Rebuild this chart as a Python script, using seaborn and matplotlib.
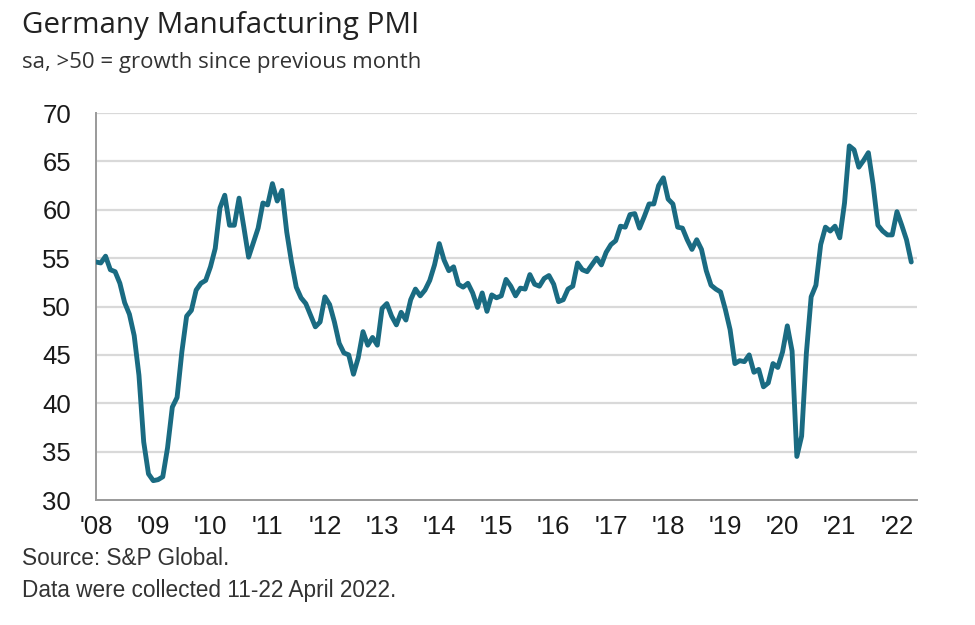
import numpy as np
import pandas as pd
import matplotlib
matplotlib.use("Agg")
import matplotlib.pyplot as plt
import seaborn as sns

# Germany Manufacturing PMI, monthly, sa
pmi_2008 = [54.6, 54.5, 55.2, 53.8, 53.6, 52.4, 50.4, 49.2, 47.0, 42.9, 36.0, 32.7]
pmi_2009 = [32.0, 32.1, 32.4, 35.4, 39.6, 40.6, 45.3, 49.0, 49.6, 51.7, 52.4, 52.7]
pmi_2010 = [54.1, 56.0, 60.2, 61.5, 58.4, 58.4, 61.2, 58.2, 55.1, 56.6, 58.1, 60.7]
pmi_2011 = [60.5, 62.7, 60.9, 62.0, 57.7, 54.6, 52.0, 50.9, 50.3, 49.1, 47.9, 48.4]
pmi_2012 = [51.0, 50.2, 48.4, 46.2, 45.2, 45.0, 43.0, 44.7, 47.4, 46.0, 46.8, 46.0]
pmi_2013 = [49.8, 50.3, 49.0, 48.1, 49.4, 48.6, 50.7, 51.8, 51.1, 51.7, 52.7, 54.3]
pmi_2014 = [56.5, 54.8, 53.7, 54.1, 52.3, 52.0, 52.4, 51.4, 49.9, 51.4, 49.5, 51.2]
pmi_2015 = [50.9, 51.1, 52.8, 52.1, 51.1, 51.9, 51.8, 53.3, 52.3, 52.1, 52.9, 53.2]
pmi_2016 = [52.3, 50.5, 50.7, 51.8, 52.1, 54.5, 53.8, 53.6, 54.3, 55.0, 54.3, 55.6]
pmi_2017 = [56.4, 56.8, 58.3, 58.2, 59.5, 59.6, 58.1, 59.3, 60.6, 60.6, 62.5, 63.3]
pmi_2018 = [61.1, 60.6, 58.2, 58.1, 56.9, 55.9, 56.9, 55.9, 53.7, 52.2, 51.8, 51.5]
pmi_2019 = [49.7, 47.6, 44.1, 44.4, 44.3, 45.0, 43.2, 43.5, 41.7, 42.1, 44.1, 43.7]
pmi_2020 = [45.3, 48.0, 45.4, 34.5, 36.6, 45.2, 51.0, 52.2, 56.4, 58.2, 57.8, 58.3]
pmi_2021 = [57.1, 60.7, 66.6, 66.2, 64.4, 65.1, 65.9, 62.6, 58.4, 57.8, 57.4, 57.4]
pmi_2022 = [59.8, 58.4, 56.9, 54.6]

years = list(range(2008, 2023))
year_labels = ["'08", "'09", "'10", "'11", "'12", "'13", "'14", "'15",
               "'16", "'17", "'18", "'19", "'20", "'21", "'22"]
y_ticks = [30, 35, 40, 45, 50, 55, 60, 65, 70]

series = [pmi_2008, pmi_2009, pmi_2010, pmi_2011, pmi_2012, pmi_2013, pmi_2014,
          pmi_2015, pmi_2016, pmi_2017, pmi_2018, pmi_2019, pmi_2020, pmi_2021,
          pmi_2022]

rows = []
for yr, vals in zip(years, series):
    for m, v in enumerate(vals):
        rows.append({"t": yr + m / 12, "pmi": v})
df = pd.DataFrame(rows)

sns.set_style("white")
plt.rcParams["font.family"] = ["Liberation Sans", "DejaVu Sans"]

fig = plt.figure(figsize=(9.75, 6.25), dpi=100)
ax = fig.add_axes([0.0985, 0.2, 0.842, 0.6192])

grid_c = "#d9d9d9"
spine_c = "#9a9a9a"
for t in y_ticks[1:]:
    ax.axhline(t, color=grid_c, lw=1.6, zorder=0)

sns.lineplot(data=df, x="t", y="pmi", ax=ax, color="#1a6b82", lw=3.5,
             solid_joinstyle="round", solid_capstyle="round", zorder=3)

ax.set_xlim(2008, 2022.35)
ax.set_ylim(30, 70)
ax.set_xticks(years)
ax.set_xticklabels(year_labels)
ax.set_yticks(y_ticks)
ax.set_xlabel("")
ax.set_ylabel("")

for s in ["top", "right"]:
    ax.spines[s].set_visible(False)
for s in ["left", "bottom"]:
    ax.spines[s].set_color(spine_c)
    ax.spines[s].set_linewidth(1.4)

ax.tick_params(axis="y", length=5, width=1.2, color=spine_c, pad=13,
               labelsize=18.5, labelcolor="#1a1a1a")
ax.tick_params(axis="x", length=5, width=1.2, color=spine_c, pad=6,
               labelsize=18.5, labelcolor="#1a1a1a", direction="out")

fig.text(0.023, 0.947, "Germany Manufacturing PMI", fontsize=21.3,
         color="#222222", va="baseline", family=["Open Sans", "DejaVu Sans"])
fig.text(0.023, 0.891, "sa, >50 = growth since previous month", fontsize=16,
         color="#333333", va="baseline", family=["Open Sans", "DejaVu Sans"])
fig.text(0.023, 0.096, "Source: S&P Global.", fontsize=16.3,
         color="#333333", va="baseline")
fig.text(0.023, 0.045, "Data were collected 11-22 April 2022.", fontsize=16.3,
         color="#333333", va="baseline")

fig.savefig("out.png", dpi=100, facecolor="white")
